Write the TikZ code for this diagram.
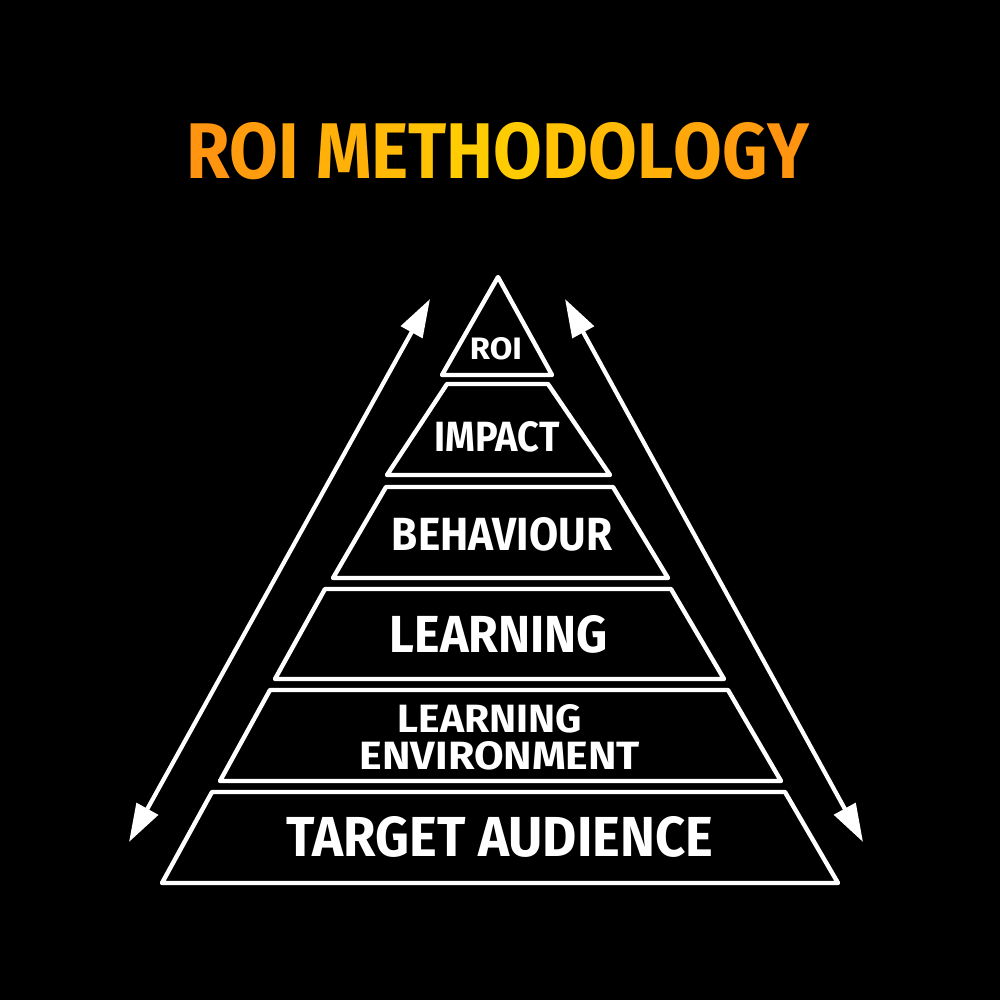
\documentclass[tikz,border=0pt]{standalone}
\usepackage{fontspec}
\setmainfont{Fira Sans}
\usetikzlibrary{arrows.meta}
\definecolor{ttlor}{HTML}{FF9410}
\definecolor{ttlye}{HTML}{FFD000}
\newcommand{\fitlabel}[3]{\resizebox{#1}{#2}{\bfseries #3}}
\newcommand{\tl}[2]{\textcolor{ttlye!#1!ttlor}{#2}}
\begin{document}
\begin{tikzpicture}[x=0.01cm,y=-0.01cm,
  layer/.style={draw=white,line width=1.25pt,line join=round},
  lbl/.style={text=white,inner sep=0pt,outer sep=0pt,anchor=center},
  sidearrow/.style={draw=white,line width=1.2pt,
    {Triangle[length=0.38cm,width=0.24cm]}-{Triangle[length=0.38cm,width=0.24cm]}}]
\fill[black] (0,0) rectangle (1000,1000);
\useasboundingbox (0,0) rectangle (1000,1000);

% title
\node[lbl] (title) at (498,151) {\fitlabel{6.23cm}{0.56cm}{%
  \tl{0}{R}\tl{15}{O}\tl{31}{I} \tl{46}{M}\tl{62}{E}\tl{77}{T}\tl{92}{H}\tl{92}{O}\tl{77}{D}\tl{62}{O}\tl{46}{L}\tl{31}{O}\tl{15}{G}\tl{0}{Y}}};

% layers
\draw[layer] (498,277) -- (552,375) -- (442,375) -- cycle;
\draw[layer] (447,384) -- (548,384) -- (610,475) -- (387,475) -- cycle;
\draw[layer] (386,487) -- (613,487) -- (668,578) -- (333,578) -- cycle;
\draw[layer] (325,589) -- (671,589) -- (724,679) -- (275,679) -- cycle;
\draw[layer] (270,690) -- (728,690) -- (781,781) -- (220,781) -- cycle;
\draw[layer] (212,792) -- (785,792) -- (838,883) -- (162,883) -- cycle;

% labels
\node[lbl] (roi) at (496,349) {\fitlabel{0.52cm}{0.22cm}{ROI}};
\node[lbl] (impact) at (497,437) {\fitlabel{1.25cm}{0.30cm}{IMPACT}};
\node[lbl] (behaviour) at (502,534) {\fitlabel{2.20cm}{0.33cm}{BEHAVIOUR}};
\node[lbl] (learning) at (499,634) {\fitlabel{2.18cm}{0.37cm}{LEARNING}};
\node[lbl] (learnenv1) at (490,719) {\fitlabel{1.84cm}{0.28cm}{LEARNING}};
\node[lbl] (learnenv2) at (500,756) {\fitlabel{2.80cm}{0.28cm}{ENVIRONMENT}};
\node[lbl] (target) at (500,837) {\fitlabel{4.26cm}{0.40cm}{TARGET AUDIENCE}};

% side arrows
\coordinate (lt) at (430,299);
\coordinate (lb) at (129,842);
\coordinate (rt) at (565,299);
\coordinate (rb) at (863,842);
\draw[sidearrow] (lb) -- (lt);
\draw[sidearrow] (rb) -- (rt);
\end{tikzpicture}
\end{document}
